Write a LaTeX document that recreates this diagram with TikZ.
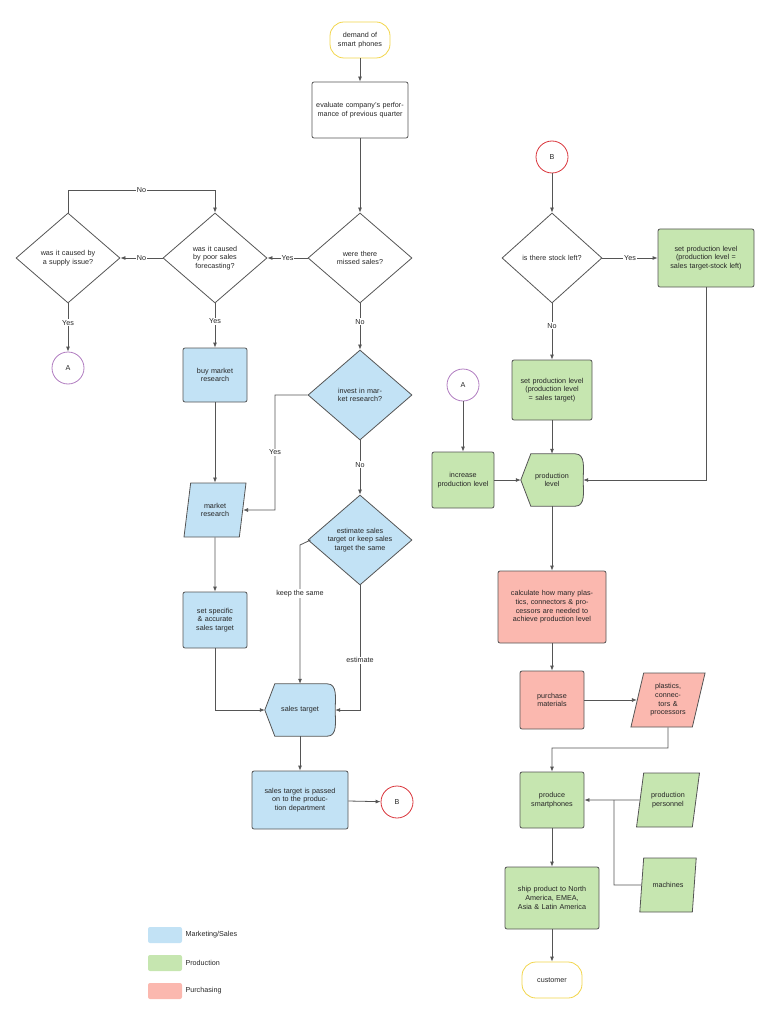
\documentclass[tikz,border=0pt]{standalone}
\usepackage{fontspec}
\setmainfont{Liberation Sans}
\usetikzlibrary{shapes.geometric,arrows.meta,backgrounds}
\definecolor{bl}{HTML}{C2E2F5}
\definecolor{gr}{HTML}{C6E6B0}
\definecolor{rd}{HTML}{FBB8AF}
\definecolor{ln}{HTML}{555555}
\definecolor{yl}{HTML}{F2D54B}
\definecolor{pu}{HTML}{B07CC0}
\definecolor{rc}{HTML}{D9343A}
\begin{document}
\begin{tikzpicture}[x=1pt,y=-1pt,
 every node/.style={font=\fontsize{7.2}{8.6}\selectfont,align=center,text=black!85},
 box/.style={draw=ln,thick,rounded corners=2pt,minimum width=#1,text width=#1-8pt,inner sep=2pt},
 dia/.style={diamond,draw=ln,thick,aspect=1.15,inner sep=0pt,minimum width=104,minimum height=90,text width=64},
 term/.style={draw=yl,thick,rounded corners=14pt,minimum width=60,minimum height=36,text width=54,inner sep=1pt},
 circ/.style={circle,draw=#1,thick,minimum size=32,inner sep=0pt},
 para/.style={trapezium,trapezium left angle=72,trapezium right angle=108,draw=ln,thick,minimum height=54,text width=42,trapezium stretches body,minimum width=56},
 disp/.style={minimum width=#1,minimum height=52,text width=#1-16pt,inner sep=0pt},
 ar/.style={draw=ln,thick,-{Latex[length=5pt,width=4pt]}},
 lb/.style={fill=white,inner sep=1pt}]
\useasboundingbox (0,0) rectangle (768,1024);
% left column
\node[term] (dem) at (360,40) {demand of smart phones};
\node[box=96,minimum height=56] (eva) at (360,110) {evaluate company's performance of previous quarter};
\node[dia] (mis) at (360,258) {were there missed sales?};
\node[dia] (poor) at (215,258) {was it caused by poor sales forecasting?};
\node[dia] (sup) at (68,258) {was it caused by a supply issue?};
\node[circ=pu] (A1) at (68,368) {A};
\node[box=64,minimum height=54,fill=bl] (buy) at (215,375) {buy market research};
\node[dia,fill=bl] (inv) at (360,395) {invest in market research?};
\node[para,fill=bl] (mr) at (215,510) {market research};
\node[dia,fill=bl,text width=70] (est) at (360,540) {estimate sales target or keep sales target the same};
\node[box=64,minimum height=56,fill=bl] (spec) at (215,620) {set specific \& accurate sales target};
\node[disp=70] (st) at (300,710) {sales target};
\node[box=96,minimum height=58,fill=bl] (pass) at (300,800) {sales target is passed on to the production department};
\node[circ=rc] (B1) at (397,802) {B};
% right column
\node[circ=rc] (B2) at (552,157) {B};
\node[dia,minimum width=100] (stock) at (552,258) {is there stock left?};
\node[box=96,minimum height=58,fill=gr] (spr) at (706,258) {set production level (production level = sales target-stock left)};
\node[box=80,minimum height=60,fill=gr] (spm) at (552,390) {set production level (production level = sales target)};
\node[circ=pu] (A2) at (463,385) {A};
\node[box=62,minimum height=56,fill=gr] (inc) at (463,480) {increase production level};
\node[disp=62] (pl) at (552,480) {production level};
\node[box=108,minimum height=72,fill=rd] (calc) at (552,607) {calculate how many plastics, connectors \& processors are needed to achieve production level};
\node[box=64,minimum height=58,fill=rd] (pur) at (552,700) {purchase materials};
\node[para,fill=rd] (pla) at (668,700) {plastics, connectors \& processors};
\node[box=64,minimum height=56,fill=gr] (prod) at (552,800) {produce smartphones};
\node[para,fill=gr] (pers) at (668,800) {production personnel};
\node[para,fill=gr] (mach) at (668,885) {machines};
\node[box=94,minimum height=62,fill=gr] (ship) at (552,898) {ship product to North America, EMEA, Asia \& Latin America};
\node[term] (cust) at (552,980) {customer};
% display shapes
\begin{scope}[on background layer]
\foreach \n/\c in {st/bl,pl/gr}{
 \draw[thick,draw=ln,fill=\c] ([xshift=10pt]\n.north west) -- ([xshift=-8pt]\n.north east) to[out=0,in=90] (\n.east) to[out=-90,in=0] ([xshift=-8pt]\n.south east) -- ([xshift=10pt]\n.south west) -- (\n.west) -- cycle;}
\end{scope}
% legend
\node[fill=bl,minimum width=34,minimum height=16,rounded corners=2pt] (l1) at (165,935) {};
\node[fill=gr,minimum width=34,minimum height=16,rounded corners=2pt] (l2) at (165,963) {};
\node[fill=rd,minimum width=34,minimum height=16,rounded corners=2pt] (l3) at (165,991) {};
\node[anchor=west] (t1) at (182,935) {Marketing/Sales};
\node[anchor=west] (t2) at (182,963) {Production};
\node[anchor=west] (t3) at (182,991) {Purchasing};
% connectors
\draw[ar] (dem) -- (eva);
\draw[ar] (eva) -- (mis);
\draw[ar] (mis) -- node[lb]{Yes} (poor);
\draw[ar] (poor) -- node[lb]{No} (sup);
\draw[ar] (sup.north) -- (68,190) -- node[lb]{No} (215,190) -- (poor.north);
\draw[ar] (sup) -- node[lb,pos=0.4]{Yes} (A1);
\draw[ar] (poor) -- node[lb,pos=0.4]{Yes} (buy);
\draw[ar] (mis) -- node[lb,pos=0.4]{No} (inv);
\draw[ar] (buy) -- (mr);
\draw[ar] (inv.west) -- (275,395) -- node[lb]{Yes} (275,510) -- (mr.east);
\draw[ar] (inv) -- node[lb,pos=0.45]{No} (est);
\draw[ar] (mr) -- (spec);
\draw[ar] ([xshift=3pt]est.west) -- (300,545) -- node[lb,pos=0.35]{keep the same} (st.north);
\draw[ar] (est.south) -- node[lb,pos=0.6]{estimate} (360,710) -- (st.east);
\draw[ar] (spec.south) -- (215,710) -- (st.west);
\draw[ar] (st) -- (pass);
\draw[ar] (pass) -- (B1);
\draw[ar] (B2) -- (stock);
\draw[ar] (stock) -- node[lb]{Yes} (spr);
\draw[ar] (stock) -- node[lb,pos=0.4]{No} (spm);
\draw[ar] (spr.south) -- (706,480) -- (pl.east);
\draw[ar] (spm) -- (pl);
\draw[ar] (A2) -- (inc);
\draw[ar] (inc) -- (pl);
\draw[ar] (pl) -- (calc);
\draw[ar] (calc) -- (pur);
\draw[ar] (pur) -- (pla);
\draw[ar] (pla.south) -- (668,748) -- (552,748) -- (prod.north);
\draw[ar] (pers) -- (prod);
\draw[thick,draw=ln] (mach.west) -- (614,885) -- (614,800);
\draw[ar] (prod) -- (ship);
\draw[ar] (ship) -- (cust);
\end{tikzpicture}
\end{document}
